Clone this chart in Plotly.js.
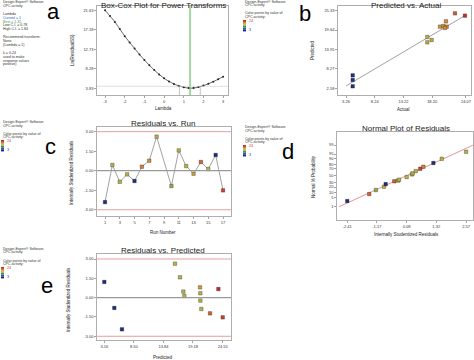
<!DOCTYPE html>
<html><head><meta charset="utf-8">
<script src="https://cdn.plot.ly/plotly-3.0.1.min.js"></script>
<style>html,body{margin:0;padding:0;background:#fff}#chart{width:474px;height:360px}</style>
</head><body><div id="chart"></div>
<script>
// ---------- Panel a: Box-Cox ----------
const lambdaVals = [-3,-2.75,-2.5,-2.25,-2,-1.75,-1.5,-1.25,-1,-0.75,-0.5,-0.25,0,0.25,0.5,0.75,1,1.25,1.5,1.75,2,2.25,2.5,2.75,3];
const lnResidSS  = [21.63,20.30,18.98,17.33,15.73,14.30,12.92,11.55,10.27,9.10,8.00,7.00,6.11,5.40,4.82,4.38,4.07,3.88,3.90,4.12,4.45,4.85,5.35,5.90,6.49];
const lambdaBest = 1.32, lambdaLow = 0.78, lambdaHigh = 1.84, ciLevel = 4.29;
const aXTicks = [-3,-2,-1,0,1,2,3];
const aYTicks = [3.83,8.28,12.73,17.18,21.63];
const aLegend = ["Design-Expert® Software","CPC activity","","Lambda","Current = 1","Best = 1.32","Low C.I. = 0.78","High C.I. = 1.84","","Recommend transform:","None","(Lambda = 1)","","k = 0.24","used to make","response values","positive)"];

// ---------- Panel b: Predicted vs Actual ----------
const bActual    = [4.42,4.42,4.42,17.36,18.11,17.36,20.60,19.56,20.14,20.72,20.43,22.16,23.89];
const bPredicted = [6.38,5.02,3.16,17.62,16.74,16.05,22.20,20.64,20.84,20.64,20.25,24.55,23.87];
const bLineX = [3.26,24.07], bLineY = [3.26,24.07];
const bXTicks = [3.26,8.24,13.22,18.20,24.07];
const bYTicks = [2.58,8.27,13.95,19.64,25.33];

// ---------- Panel c: Residuals vs Run ----------
const runNo       = [1,2,3,4,5,6,7,8,10,11,12,13,14,15,16,17];
const runResid    = [-2.41,0.44,-0.85,-0.28,-0.79,0.31,0.77,2.62,-1.18,1.56,0.36,-0.23,0.67,0.13,1.21,-1.51];
const runActivity = [4,17,17,17,4,21,20,17,15,17,17,19,22,17,4,23];
const cXTicks = [1,3,5,7,9,11,13,15,17];
const residTicks = [-3,-1.5,0,1.5,3];

// ---------- Panel d: Normal plot ----------
const normResid = [-2.41,-1.49,-1.21,-0.87,-0.80,-0.44,-0.28,-0.24,0.08,0.30,0.33,0.46,0.65,0.78,1.20,1.55,2.57];
const normZ     = [-1.90,-1.37,-1.07,-0.82,-0.62,-0.41,-0.36,-0.29,-0.09,0.11,0.19,0.36,0.54,0.69,0.97,1.29,1.82];
const normActivity = [4,22,15,17,4,22,17,17,17,17,17,17,23,21,4,17,17];
const normLineX = [-2.75,2.87], normLineZ = [-2.326,2.326];
const dXTicks = [-2.41,-1.17,0.08,1.32,2.57];
const probLabels = ["1","5","10","20","30","50","70","80","90","95","99"];
const probZ = [-2.326,-1.645,-1.282,-0.842,-0.524,0,0.524,0.842,1.282,1.645,2.326];

// ---------- Panel e: Residuals vs Predicted ----------
const predVals  = [3.16,4.97,6.35,15.93,16.84,17.44,17.62,20.45,20.51,20.51,20.69,22.26,23.77,24.55];
const predResid = [1.22,-0.80,-2.46,2.64,1.58,0.47,0.13,0.80,0.34,-0.23,-0.88,-1.22,0.67,-1.53];
const predActivity = [4,4,4,17,17,17,17,20,17,17,17,22,24,23];
const eXTicks = [3.16,8.50,13.84,19.18,24.55];

// ---------- layout helpers ----------
const W = 474, H = 360;
const PX = x => x / W, PY = y => 1 - y / H;
const FONT = "Liberation Sans, Arial, sans-serif";
const cscale = [[0,'#1c1c86'],[0.3,'#2e8f4c'],[0.66,'#b3b34a'],[0.83,'#d4913a'],[1,'#c42a2a']];

function mk(x, y, c, xa, ya) {
  return {type:'scatter', mode:'markers', x:x, y:y, xaxis:xa, yaxis:ya, hoverinfo:'skip',
    marker:{symbol:'square', size:3.5, color:c, cmin:3, cmax:24, colorscale:cscale,
            line:{width:0.5, color:'rgba(0,0,0,0.55)'}}};
}
function ax(domain, range, tickvals, ticktext, anchor) {
  return {domain:domain, range:range, anchor:anchor, tickvals:tickvals, ticktext:ticktext,
    showgrid:false, zeroline:false, showline:true, mirror:true, linecolor:'#9a9a9a', linewidth:0.8,
    ticks:'outside', ticklen:2, tickwidth:0.6, tickcolor:'#666',
    tickfont:{size:4, color:'#333', family:FONT}, fixedrange:true};
}
const f2 = v => v.toFixed(2);

const traces = [
  {type:'scatter', mode:'lines+markers', x:lambdaVals, y:lnResidSS, xaxis:'x', yaxis:'y', hoverinfo:'skip',
   line:{color:'#444', width:0.8, shape:'spline'}, marker:{size:2, color:'#222'}},
  {type:'scatter', mode:'lines', x:bLineX, y:bLineY, xaxis:'x2', yaxis:'y2', hoverinfo:'skip',
   line:{color:'#8a8a8a', width:0.8}},
  mk(bActual, bPredicted, bActual, 'x2', 'y2'),
  {type:'scatter', mode:'lines', x:runNo, y:runResid, xaxis:'x3', yaxis:'y3', hoverinfo:'skip',
   line:{color:'#8a8a8a', width:0.8}},
  mk(runNo, runResid, runActivity, 'x3', 'y3'),
  {type:'scatter', mode:'lines', x:normLineX, y:normLineZ, xaxis:'x4', yaxis:'y4', hoverinfo:'skip',
   line:{color:'#e07a7a', width:0.8}},
  mk(normResid, normZ, normActivity, 'x4', 'y4'),
  mk(predVals, predResid, predActivity, 'x5', 'y5')
];

const layout = {
  width:W, height:H, autosize:false, showlegend:false,
  margin:{l:0,r:0,t:0,b:0}, paper_bgcolor:'#fff', plot_bgcolor:'#fff',
  font:{family:FONT},
  xaxis:  ax([PX(97),PX(228)], [-3.41,3.25], aXTicks, aXTicks.map(String), 'y'),
  yaxis:  ax([PY(95),PY(6)], [2.31,22.6], aYTicks, aYTicks.map(f2), 'x'),
  xaxis2: ax([PX(338),PX(471)], [1.87,24.94], bXTicks, bXTicks.map(f2), 'y2'),
  yaxis2: ax([PY(95),PY(6)], [0.61,26.7], bYTicks, bYTicks.map(f2), 'x2'),
  xaxis3: ax([PX(97),PX(231)], [-0.085,18.08], cXTicks, cXTicks.map(String), 'y3'),
  yaxis3: ax([PY(216),PY(127)], [-3.48,3.36], residTicks, residTicks.map(f2), 'x3'),
  xaxis4: ax([PX(337),PX(473)], [-2.84,2.86], dXTicks, dXTicks.map(f2), 'y4'),
  yaxis4: ax([PY(220),PY(132)], [-3.33,3.31], probZ, probLabels, 'x4'),
  xaxis5: ax([PX(97),PX(231)], [1.84,26.05], eXTicks, eXTicks.map(f2), 'y5'),
  yaxis5: ax([PY(340),PY(254)], [-3.29,3.39], residTicks, residTicks.map(f2), 'x5'),
  shapes:[], annotations:[]
};

// reference lines
const S = layout.shapes;
S.push({type:'line', xref:'x', yref:'y domain', x0:lambdaBest, x1:lambdaBest, y0:0, y1:1, line:{color:'#6cc46c', width:1.2}});
S.push({type:'line', xref:'x domain', yref:'y', x0:0, x1:1, y0:ciLevel, y1:ciLevel, line:{color:'#c8c8c8', width:0.6}});
[lambdaLow, lambdaHigh].forEach(v => S.push({type:'line', xref:'x', yref:'y', x0:v, x1:v, y0:2.31, y1:ciLevel, line:{color:'#999', width:0.6}}));
[['x3','y3'],['x5','y5']].forEach(([xa,ya]) => {
  [3,-3].forEach(v => S.push({type:'line', xref:xa+' domain', yref:ya, x0:0, x1:1, y0:v, y1:v, line:{color:'#e08585', width:0.8}}));
  S.push({type:'line', xref:xa+' domain', yref:ya, x0:0, x1:1, y0:0, y1:0, line:{color:'#9a9a9a', width:1.2}});
});

// annotations
const A = layout.annotations;
function ann(text, x, y, size, opts) {
  A.push(Object.assign({text:text, xref:'paper', yref:'paper', x:PX(x), y:PY(y), showarrow:false,
    font:{size:size, color:'#222', family:FONT}, xanchor:'center', yanchor:'middle'}, opts||{}));
}
// plot titles
ann('Box-Cox Plot for Power Transforms', 163, 5.5, 8);
ann('Predicted vs. Actual', 406, 5.5, 8);
ann('Residuals vs. Run', 163, 123, 8);
ann('Normal Plot of Residuals', 406, 128, 8);
ann('Residuals vs. Predicted', 163, 250, 8);
// axis titles
ann('Lambda', 163, 108, 4.5);
ann('Ln(ResidualSS)', 73, 50, 4.5, {textangle:-90});
ann('Actual', 403, 109, 4.5);
ann('Predicted', 313, 50, 4.5, {textangle:-90});
ann('Run Number', 163, 232, 4.5);
ann('Internally Studentized Residuals', 71, 173, 4.5, {textangle:-90});
ann('Internally Studentized Residuals', 406, 234, 4.5);
ann('Normal % Probability', 313, 177, 4.5, {textangle:-90});
ann('Predicted', 163, 357, 4.5);
ann('Internally Studentized Residuals', 68, 300, 4.5, {textangle:-90});
// panel letters
ann('a', 53, 12, 22, {font:{size:22, color:'#000', family:FONT}});
ann('b', 305, 14, 22, {font:{size:22, color:'#000', family:FONT}});
ann('c', 50, 146, 22, {font:{size:22, color:'#000', family:FONT}});
ann('d', 288, 151, 22, {font:{size:22, color:'#000', family:FONT}});
ann('e', 47, 285, 22, {font:{size:22, color:'#000', family:FONT}});

// panel a side legend
aLegend.forEach((t, i) => {
  if (!t) return;
  let col = '#333';
  if (t.startsWith('Current')) col = '#3050d0';
  if (t.startsWith('Best')) col = '#40a040';
  ann(t, 1, 2 + i * 3.9, 3.6, {xanchor:'left', font:{size:3.6, color:col, family:FONT}});
});
// colour-key legends for b..e
const barCols = ['#c8302a','#e07a30','#c8c040','#3a9a40','#2a5ab0','#1c1c86'];
function colorKey(x, y) {
  ann('Design-Expert® Software', x, y, 3.6, {xanchor:'left', font:{size:3.6, color:'#333', family:FONT}});
  ann('CPC activity', x, y + 3.5, 3.6, {xanchor:'left', font:{size:3.6, color:'#333', family:FONT}});
  ann('Color points by value of', x, y + 11.5, 3.6, {xanchor:'left', font:{size:3.6, color:'#333', family:FONT}});
  ann('CPC activity:', x, y + 15, 3.6, {xanchor:'left', font:{size:3.6, color:'#333', family:FONT}});
  const top = y + 18, h = 1.9;
  barCols.forEach((c, i) => S.push({type:'rect', xref:'paper', yref:'paper', x0:PX(x), x1:PX(x + 3),
     y0:PY(top + (i + 1) * h), y1:PY(top + i * h), fillcolor:c, line:{width:0}}));
  ann('24', x + 4, top + 1, 3.6, {xanchor:'left', font:{size:3.6, color:'#d03020', family:FONT}});
  ann('3', x + 4, top + 6 * h - 1, 3.6, {xanchor:'left', font:{size:3.6, color:'#2030a0', family:FONT}});
}
colorKey(243, 2);
colorKey(1, 122);
colorKey(243, 127);
colorKey(1, 249);

Plotly.newPlot('chart', traces, layout, {staticPlot:true, displayModeBar:false});
</script></body></html>
